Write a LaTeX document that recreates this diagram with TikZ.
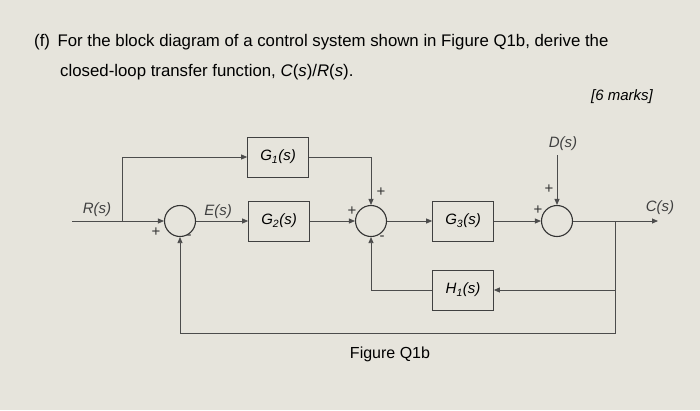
\documentclass[tikz,border=0pt]{standalone}
\usepackage{fontspec}
\setmainfont{Liberation Sans}
\usetikzlibrary{arrows.meta}
\begin{document}
\begin{tikzpicture}[x=1pt,y=-1pt,
  blk/.style={draw=black!75,line width=0.7pt,minimum width=61pt,minimum height=40pt,font=\fontsize{15}{17}\selectfont\itshape},
  sumj/.style={circle,draw=black!80,line width=1.1pt,minimum size=31pt,inner sep=0pt},
  ln/.style={draw=black!70,line width=0.8pt},
  ar/.style={ln,-{Triangle[length=6pt,width=5pt]}},
  lab/.style={font=\fontsize{15}{17}\selectfont\itshape,text=black!75},
  sg/.style={font=\fontsize{15}{16}\selectfont,text=black!80,inner sep=0pt}]
\fill[fill={rgb,255:red,230;green,228;blue,220}] (0,0) rectangle (700,410);
\useasboundingbox (0,0) rectangle (700,410);
\node[anchor=west,font=\fontsize{16.8}{19}\selectfont,inner sep=0pt] (t1) at (34,42) {(f)\, For the block diagram of a control system shown in Figure Q1b, derive the};
\node[anchor=west,font=\fontsize{16.8}{19}\selectfont,inner sep=0pt] (t2) at (60,72) {closed-loop transfer function, \textit{C}(\textit{s})/\textit{R}(\textit{s}).};
\node[font=\fontsize{15}{17}\selectfont\itshape] (mk) at (622,97) {[6 marks]};
\node[font=\fontsize{16}{18}\selectfont] (fig) at (390,354) {Figure Q1b};

\coordinate (rin) at (72,221);
\coordinate (br) at (122,221);
\node[sumj] (s1) at (180,221) {};
\node[blk] (g1) at (278,157) {G\textsubscript{1}(s)};
\node[blk] (g2) at (279,221) {G\textsubscript{2}(s)};
\node[sumj] (s2) at (371,221) {};
\node[blk] (g3) at (463,221) {G\textsubscript{3}(s)};
\node[sumj] (s3) at (557,221) {};
\node[blk] (h1) at (463,290) {H\textsubscript{1}(s)};
\coordinate (d) at (557,155);
\coordinate (cout) at (658,221);
\coordinate (bo) at (615,221);

\node[lab] (rl) at (97,210) {R(s)};
\node[lab] (el) at (218,212) {E(s)};
\node[lab] (dl) at (563,144) {D(s)};
\node[lab] (cl) at (660,208) {C(s)};

\draw[ar] (rin) -- (s1.west);
\draw[ar] (br) |- (g1.west);
\draw[ar] (s1.east) -- (g2.west);
\draw[ar] (g1.east) -| (s2.north);
\draw[ar] (g2.east) -- (s2.west);
\draw[ar] (s2.east) -- (g3.west);
\draw[ar] (g3.east) -- (s3.west);
\draw[ar] (d) -- (s3.north);
\draw[ar] (s3.east) -- (cout);
\draw[ar] (bo) |- (h1.east);
\draw[ar] (h1.west) -| (s2.south);
\draw[ar] (bo) |- (180,333) -- (s1.south);

\node[sg] (p1) at (156,232) {+};
\node[sg] (m1) at (189,237) {-};
\node[sg] (p2) at (352,211) {+};
\node[sg] (p3) at (381,192) {+};
\node[sg] (m2) at (382,238) {-};
\node[sg] (p4) at (538,210) {+};
\node[sg] (p5) at (549,189) {+};
\end{tikzpicture}
\end{document}
